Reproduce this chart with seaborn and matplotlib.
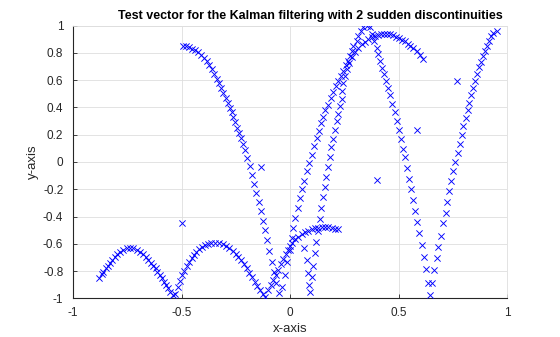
import numpy as np
import pandas as pd
import matplotlib
matplotlib.use("Agg")
import matplotlib.pyplot as plt
import seaborn as sns

# Segment 1: low arches along the bottom of the plane
seg1_x = [-0.879, -0.868, -0.860, -0.849, -0.840, -0.829, -0.819, -0.806, -0.796, -0.783,
          -0.768, -0.753, -0.737, -0.722, -0.706, -0.691, -0.676, -0.664, -0.653, -0.642,
          -0.630, -0.619, -0.612, -0.599, -0.588, -0.579, -0.571, -0.564, -0.553, -0.541,
          -0.530, -0.518, -0.507, -0.498, -0.488, -0.477, -0.465, -0.453, -0.442, -0.431,
          -0.419, -0.407, -0.394, -0.380, -0.364, -0.346, -0.327, -0.311, -0.295, -0.280,
          -0.265, -0.251, -0.238, -0.226, -0.213, -0.200, -0.188, -0.175, -0.161, -0.150,
          -0.138, -0.126, -0.115, -0.100, -0.089, -0.077, -0.065, -0.054, -0.043, -0.031,
          -0.020, -0.011, 0.000, 0.011, 0.023, 0.038, 0.054, 0.069, 0.084, 0.100,
          0.115, 0.130, 0.146, 0.161, 0.176, 0.192, 0.207, 0.223]
seg1_y = [-0.849, -0.824, -0.804, -0.779, -0.760, -0.738, -0.718, -0.696, -0.676, -0.657,
          -0.643, -0.632, -0.628, -0.632, -0.643, -0.657, -0.676, -0.696, -0.718, -0.738,
          -0.760, -0.779, -0.804, -0.829, -0.853, -0.878, -0.902, -0.926, -0.951, -0.976,
          -0.965, -0.917, -0.873, -0.832, -0.796, -0.763, -0.733, -0.706, -0.682, -0.660,
          -0.640, -0.623, -0.608, -0.599, -0.593, -0.591, -0.595, -0.603, -0.615, -0.632,
          -0.652, -0.674, -0.696, -0.721, -0.748, -0.779, -0.812, -0.843, -0.878, -0.910,
          -0.939, -0.965, -0.987, -0.939, -0.902, -0.865, -0.829, -0.792, -0.750, -0.713,
          -0.676, -0.645, -0.615, -0.591, -0.566, -0.547, -0.527, -0.515, -0.503, -0.493,
          -0.485, -0.481, -0.476, -0.474, -0.476, -0.481, -0.488, -0.493]

# Segment 2: after the first jump, a wide zig-zag across the plane
seg2_x = [-0.492, -0.479, -0.465, -0.452, -0.438, -0.424, -0.410, -0.395, -0.381, -0.372,
          -0.361, -0.349, -0.338, -0.327, -0.318, -0.307, -0.296, -0.287, -0.276, -0.269,
          -0.261, -0.253, -0.244, -0.235, -0.226, -0.215, -0.207, -0.200, -0.184, -0.176,
          -0.166, -0.157, -0.141, -0.134, -0.123, -0.115, -0.106, -0.097, -0.085, -0.074,
          -0.065, -0.053, -0.039, -0.025, -0.014, -0.002, 0.008, 0.015, 0.023, 0.038,
          0.046, 0.057, 0.066, 0.077, 0.087, 0.100, 0.111, 0.123, 0.135, 0.143,
          0.153, 0.161, 0.176, 0.188, 0.200, 0.211, 0.223, 0.234, 0.246, 0.257,
          0.269, 0.276, 0.284, 0.292, 0.307, 0.315, 0.327, 0.338, 0.353, 0.369,
          0.378, 0.389, 0.400, 0.407, 0.416, 0.424, 0.433, 0.442, 0.453, 0.461,
          0.470, 0.482, 0.492, 0.502, 0.510, 0.519, 0.530, 0.538, 0.548, 0.558,
          0.568, 0.576, 0.587, 0.596, 0.607, 0.618, 0.625, 0.635, 0.645, 0.653,
          0.665, 0.676, 0.683, 0.694, 0.706, 0.717, 0.725, 0.734, 0.742, 0.750,
          0.760, 0.776, 0.783, 0.791, 0.799, 0.811, 0.819, 0.825, 0.834, 0.845,
          0.853, 0.863, 0.871, 0.880, 0.891, 0.899, 0.906, 0.917, 0.926, 0.937,
          0.953]
seg2_y = [0.850, 0.848, 0.840, 0.829, 0.818, 0.804, 0.785, 0.765, 0.740, 0.712,
          0.679, 0.642, 0.610, 0.576, 0.544, 0.507, 0.471, 0.434, 0.397, 0.365,
          0.331, 0.291, 0.250, 0.213, 0.176, 0.135, 0.090, 0.029, -0.032, -0.093,
          -0.160, -0.228, -0.296, -0.363, -0.435, -0.498, -0.571, -0.652, -0.731, -0.807,
          -0.888, -0.961, -0.917, -0.829, -0.733, -0.645, -0.559, -0.485, -0.412, -0.338,
          -0.265, -0.199, -0.138, -0.069, -0.007, 0.054, 0.120, 0.176, 0.230, 0.287,
          0.331, 0.379, 0.421, 0.471, 0.512, 0.556, 0.593, 0.629, 0.671, 0.708,
          0.740, 0.776, 0.813, 0.850, 0.887, 0.924, 0.960, 0.990, 0.995, 0.987,
          0.936, 0.885, 0.833, 0.789, 0.741, 0.693, 0.646, 0.593, 0.544, 0.491,
          0.429, 0.366, 0.304, 0.238, 0.169, 0.096, 0.034, -0.044, -0.123, -0.199,
          -0.277, -0.356, -0.441, -0.522, -0.608, -0.699, -0.787, -0.885, -0.976, -0.885,
          -0.792, -0.706, -0.621, -0.540, -0.449, -0.371, -0.294, -0.216, -0.143, -0.069,
          -0.003, 0.066, 0.135, 0.196, 0.262, 0.324, 0.379, 0.434, 0.488, 0.544,
          0.593, 0.647, 0.696, 0.732, 0.776, 0.813, 0.850, 0.887, 0.924, 0.949,
          0.960]

# Segment 3: after the second jump, a narrow dip followed by a high arch
seg3_x = [0.066, 0.076, 0.082, 0.089, 0.092, 0.100, 0.107, 0.115, 0.121, 0.129,
          0.138, 0.143, 0.151, 0.161, 0.166, 0.175, 0.184, 0.189, 0.197, 0.207,
          0.215, 0.223, 0.230, 0.238, 0.241, 0.246, 0.253, 0.263, 0.272, 0.286,
          0.300, 0.313, 0.330, 0.346, 0.361, 0.376, 0.392, 0.406, 0.419, 0.433,
          0.447, 0.461, 0.475, 0.488, 0.502, 0.516, 0.530, 0.544, 0.555, 0.568,
          0.584, 0.599, 0.614]
seg3_y = [-0.632, -0.718, -0.814, -0.902, -0.957, -0.843, -0.763, -0.669, -0.584, -0.505,
          -0.421, -0.338, -0.260, -0.184, -0.110, -0.035, 0.039, 0.107, 0.171, 0.238,
          0.299, 0.353, 0.409, 0.463, 0.519, 0.576, 0.629, 0.679, 0.723, 0.767,
          0.804, 0.833, 0.863, 0.881, 0.899, 0.916, 0.925, 0.932, 0.936, 0.940,
          0.940, 0.936, 0.929, 0.918, 0.907, 0.896, 0.885, 0.866, 0.851, 0.837,
          0.811, 0.784, 0.757]

# Isolated spurious measurements
outlier_x = [-0.500, -0.134, 0.402, 0.587, 0.771]
outlier_y = [-0.444, -0.040, -0.135, 0.237, 0.596]

x_ticks = [-1, -0.5, 0, 0.5, 1]
y_ticks = [-1, -0.8, -0.6, -0.4, -0.2, 0, 0.2, 0.4, 0.6, 0.8, 1]

df = pd.DataFrame({
    "x": seg1_x + seg2_x + seg3_x + outlier_x,
    "y": seg1_y + seg2_y + seg3_y + outlier_y,
})

sns.set_style("white")
plt.rcParams["font.family"] = ["Liberation Sans", "DejaVu Sans"]

fig = plt.figure(figsize=(5.6, 3.37), dpi=100)
ax = fig.add_axes([0.1304, 0.1148, 0.775, 0.809])

sns.scatterplot(data=df, x="x", y="y", ax=ax, marker="x", color="#0000ff",
                s=20, linewidth=0.65, legend=False, zorder=3)

ax.set_xlim(-1, 1)
ax.set_ylim(-1, 1)
ax.set_xticks(x_ticks)
ax.set_xticklabels([f"{t:g}" for t in x_ticks])
ax.set_yticks(y_ticks)
ax.set_yticklabels([f"{t:g}" for t in y_ticks])

ax.grid(True, color="#dedede", linewidth=0.6, zorder=0)
ax.set_axisbelow(True)
for side in ("top", "right"):
    ax.spines[side].set_color("#dedede")
    ax.spines[side].set_linewidth(0.6)
for side in ("left", "bottom"):
    ax.spines[side].set_color("#262626")
    ax.spines[side].set_linewidth(0.8)

ax.tick_params(direction="in", length=3, width=0.6, colors="#262626",
               labelsize=8.5, top=False, right=False, left=True, bottom=True)
ax.tick_params(axis="x", pad=6)
ax.tick_params(axis="y", pad=7)

ax.set_xlabel("x-axis", fontsize=9.5, color="#262626", labelpad=3)
ax.set_ylabel("y-axis", fontsize=9.5, color="#262626", labelpad=3)
ax.set_title("Test vector for the Kalman filtering with 2 sudden discontinuities",
             fontsize=9, fontweight="bold", color="black", pad=5, x=0.548)

fig.savefig("out.png", dpi=100)
